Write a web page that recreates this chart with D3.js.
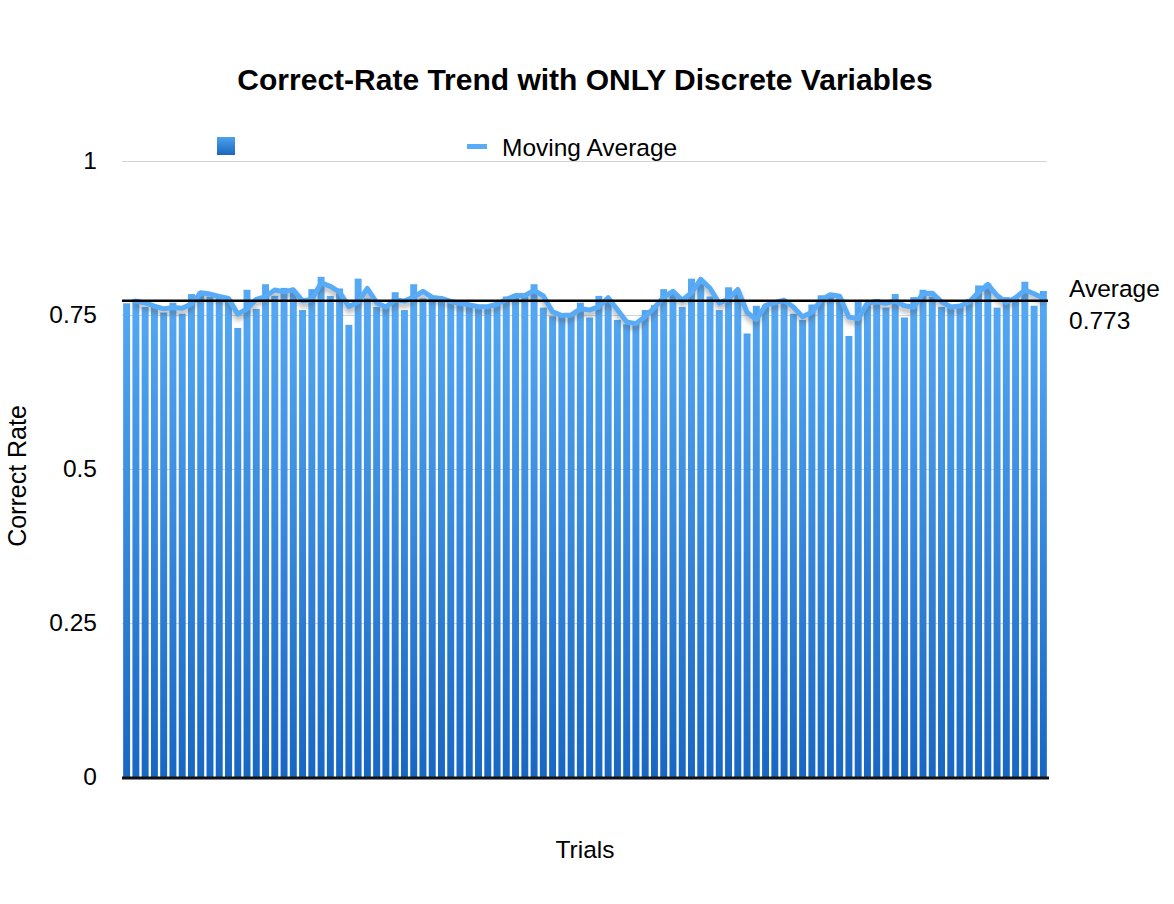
<!DOCTYPE html>
<html>
<head>
<meta charset="utf-8">
<script src="https://cdn.jsdelivr.net/npm/d3@7/dist/d3.min.js"></script>
<style>
  html, body { margin: 0; padding: 0; background: #fff; }
  svg { display: block; font-family: "Liberation Sans", Arial, Helvetica, sans-serif; }
</style>
</head>
<body>
<svg id="chart" width="1174" height="904"></svg>
<script>
// ---- data ----
const trials = d3.range(1, 101);
const correctRate = [
  0.769, 0.776, 0.763, 0.766, 0.754, 0.770, 0.752, 0.784, 0.788, 0.780,
  0.780, 0.774, 0.729, 0.791, 0.760, 0.800, 0.781, 0.794, 0.788, 0.758,
  0.792, 0.812, 0.781, 0.793, 0.734, 0.809, 0.777, 0.763, 0.763, 0.787,
  0.758, 0.800, 0.777, 0.780, 0.774, 0.770, 0.768, 0.765, 0.762, 0.765,
  0.770, 0.780, 0.783, 0.780, 0.800, 0.762, 0.748, 0.750, 0.750, 0.770,
  0.746, 0.781, 0.775, 0.742, 0.735, 0.737, 0.758, 0.766, 0.792, 0.785,
  0.763, 0.809, 0.807, 0.780, 0.758, 0.795, 0.788, 0.720, 0.765, 0.766,
  0.774, 0.774, 0.752, 0.742, 0.767, 0.782, 0.784, 0.777, 0.716, 0.772,
  0.767, 0.776, 0.762, 0.784, 0.746, 0.779, 0.791, 0.780, 0.763, 0.763,
  0.766, 0.776, 0.798, 0.801, 0.762, 0.779, 0.777, 0.804, 0.765, 0.789
];
// 2-period moving average (starts at trial 2)
const movingAverage = [
  0.7725, 0.7695, 0.7645, 0.760, 0.762, 0.761, 0.768, 0.786, 0.784,
  0.780, 0.777, 0.7515, 0.760, 0.7755, 0.780, 0.7905, 0.7875, 0.791, 0.773,
  0.775, 0.802, 0.7965, 0.787, 0.7635, 0.7715, 0.793, 0.770, 0.763, 0.775,
  0.7725, 0.779, 0.7885, 0.7785, 0.777, 0.772, 0.769, 0.7665, 0.7635, 0.7635,
  0.7675, 0.775, 0.7815, 0.7815, 0.790, 0.781, 0.755, 0.749, 0.750, 0.760,
  0.758, 0.7635, 0.778, 0.7585, 0.7385, 0.736, 0.7475, 0.762, 0.779, 0.7885,
  0.774, 0.786, 0.808, 0.7935, 0.769, 0.7765, 0.7915, 0.754, 0.7425, 0.7655,
  0.770, 0.774, 0.763, 0.747, 0.7545, 0.7745, 0.783, 0.7805, 0.7465, 0.744,
  0.7695, 0.7715, 0.769, 0.773, 0.765, 0.7625, 0.785, 0.7855, 0.7715, 0.763,
  0.7645, 0.771, 0.787, 0.7995, 0.7815, 0.7705, 0.778, 0.7905, 0.7845, 0.777
];
const averageValue = 0.773;
const yTicks = [0, 0.25, 0.5, 0.75, 1];
const yTickLabels = ["0", "0.25", "0.5", "0.75", "1"];
const titleText = "Correct-Rate Trend with ONLY Discrete Variables";
const xTitle = "Trials";
const yTitle = "Correct Rate";
const legendLine = "Moving Average";
const averageLabel = ["Average", "0.773"];

// ---- layout ----
const svg = d3.select("#chart");
const plotL = 122, plotR = 1048, plotT = 161, plotB = 777;

const x = d3.scaleBand().domain(trials).range([plotL, plotR])
  .paddingInner(0.25).paddingOuter(0.125);
const y = d3.scaleLinear().domain([0, 1]).range([plotB, plotT]);

const defs = svg.append("defs");
const grad = defs.append("linearGradient").attr("id", "barGrad")
  .attr("gradientUnits", "userSpaceOnUse")
  .attr("x1", 0).attr("y1", y(0.8)).attr("x2", 0).attr("y2", y(0));
grad.append("stop").attr("offset", "0%").attr("stop-color", "#56aaf5");
grad.append("stop").attr("offset", "100%").attr("stop-color", "#1867c3");

const lgGrad = defs.append("linearGradient").attr("id", "legGrad")
  .attr("x1", 0).attr("y1", 0).attr("x2", 0).attr("y2", 1);
lgGrad.append("stop").attr("offset", "0%").attr("stop-color", "#4da2ee");
lgGrad.append("stop").attr("offset", "100%").attr("stop-color", "#1a66bd");

const shadow = defs.append("filter").attr("id", "shadow")
  .attr("x", "-5%").attr("y", "-50%").attr("width", "110%").attr("height", "200%");
shadow.append("feDropShadow").attr("dx", 0).attr("dy", 4)
  .attr("stdDeviation", 2.5).attr("flood-color", "#555").attr("flood-opacity", 0.45);

// title
svg.append("text").attr("x", 585).attr("y", 90).attr("text-anchor", "middle")
  .attr("font-size", 30).attr("font-weight", "bold").attr("fill", "#000").text(titleText);

// gridlines
svg.append("g").selectAll("line").data(yTicks.filter(d => d > 0)).join("line")
  .attr("x1", plotL).attr("x2", plotR - 1)
  .attr("y1", d => Math.round(y(d)) + 0.5).attr("y2", d => Math.round(y(d)) + 0.5)
  .attr("stroke", "#d4d4d4").attr("stroke-width", 1);

// y axis labels
const yAxis = d3.axisLeft(y).tickValues(yTicks)
  .tickFormat((d, i) => yTickLabels[i]).tickSize(0).tickPadding(25);
const gy = svg.append("g").attr("transform", `translate(${plotL},0)`).call(yAxis);
gy.select(".domain").remove();
gy.selectAll("text").attr("font-size", 24.5).attr("fill", "#000")
  .attr("font-family", "'Liberation Sans', Arial, sans-serif");

// bars
svg.append("g").selectAll("rect").data(correctRate).join("rect")
  .attr("x", (d, i) => x(trials[i]))
  .attr("width", x.bandwidth())
  .attr("y", d => y(d))
  .attr("height", d => y(0) - y(d))
  .attr("fill", "url(#barGrad)");

// baseline
svg.append("line").attr("x1", plotL).attr("x2", plotR + 1)
  .attr("y1", y(0) + 1).attr("y2", y(0) + 1)
  .attr("stroke", "#111").attr("stroke-width", 3);

// moving average line
const line = d3.line()
  .x((d, i) => x(trials[i + 1]) + x.bandwidth() / 2)
  .y(d => y(d));
svg.append("path").datum(movingAverage)
  .attr("d", line).attr("fill", "none")
  .attr("stroke", "#58abf6").attr("stroke-width", 5)
  .attr("stroke-linejoin", "round").attr("stroke-linecap", "round")
  .attr("filter", "url(#shadow)");

// average line
svg.append("line").attr("x1", plotL).attr("x2", plotR)
  .attr("y1", y(averageValue)).attr("y2", y(averageValue))
  .attr("stroke", "#000").attr("stroke-width", 2.5);
svg.append("text").attr("x", 1069).attr("y", 297)
  .attr("font-size", 24.5).attr("fill", "#000").text(averageLabel[0]);
svg.append("text").attr("x", 1069).attr("y", 329)
  .attr("font-size", 24.5).attr("fill", "#000").text(averageLabel[1]);

// axis titles
svg.append("text").attr("x", 585).attr("y", 858).attr("text-anchor", "middle")
  .attr("font-size", 24.5).attr("fill", "#000").text(xTitle);
svg.append("text").attr("transform", "translate(26,476) rotate(-90)")
  .attr("text-anchor", "middle").attr("font-size", 25).attr("fill", "#000").text(yTitle);

// legend
svg.append("rect").attr("x", 217).attr("y", 137).attr("width", 18).attr("height", 18)
  .attr("fill", "url(#legGrad)");
svg.append("line").attr("x1", 467).attr("x2", 487).attr("y1", 146.5).attr("y2", 146.5)
  .attr("stroke", "#58abf6").attr("stroke-width", 5);
svg.append("text").attr("x", 502).attr("y", 156).attr("font-size", 24.5)
  .attr("fill", "#000").text(legendLine);
</script>
</body>
</html>
